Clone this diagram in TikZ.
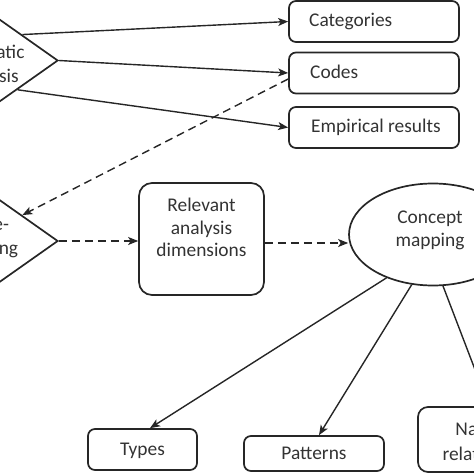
\documentclass[tikz,border=0pt]{standalone}
\usepackage{fontspec}
\setmainfont{Carlito}
\usetikzlibrary{shapes.geometric,arrows.meta,calc}
\definecolor{ln}{HTML}{262626}
\definecolor{tx}{HTML}{333333}
\begin{document}
\begin{tikzpicture}[x=1pt,y=-1pt,
 every node/.style={font=\fontsize{19.4}{24}\selectfont, text=tx},
 shapeline/.style={draw=ln, line width=1.7pt},
 rbox/.style={shapeline, rectangle, rounded corners=7pt, inner sep=0pt},
 dia/.style={shapeline, diamond, minimum width=116pt, minimum height=82pt, inner sep=0pt},
 conn/.style={draw=ln, line width=1.4pt, -{Stealth[length=10pt,width=8pt,inset=2.5pt]}},
 dconn/.style={conn, dash pattern=on 8pt off 5pt},
 lbl/.style={anchor=base, inner sep=0pt},
 lbll/.style={anchor=base west, inner sep=0pt},
 ctext/.style={text height=12.5pt, text depth=0pt},
 leftbox/.style={rbox, minimum width=170pt, minimum height=41pt},
]
\useasboundingbox (0,0) rectangle (474,474);
\clip (0,0) rectangle (474,474);
% top part
\node[dia] (d1) at (0,60.5) {};
\node[lbl] (t1a) at (-12,58) {Thematic};
\node[lbl] (t1b) at (-12,82) {analysis};
\node[leftbox] (cat) at (374,21.5) {};
\node[leftbox] (codes) at (374,73) {};
\node[leftbox] (emp) at (374,127.5) {};
\node[lbll] (tc1) at (309,26.5) {Categories};
\node[lbll] (tc2) at (310,78) {Codes};
\node[lbll] (tc3) at (311,132.5) {Empirical results};
% middle row
\node[dia] (d2) at (0,241) {};
\node[lbl] (t2a) at (-7,230) {Pre-};
\node[lbl] (t2b) at (-8,254) {coding};
\node[rbox, rounded corners=13pt, minimum width=125pt, minimum height=112pt] (rel) at (201.5,239) {};
\node[lbl] (t3a) at (201.5,211.5) {Relevant};
\node[lbl] (t3b) at (201.5,234) {analysis};
\node[lbl] (t3c) at (201.5,256.5) {dimensions};
\node[shapeline, ellipse, minimum width=168pt, minimum height=102pt, inner sep=0pt] (concept) at (433,234.5) {};
\node[lbl] (t4a) at (430,223) {Concept};
\node[lbl] (t4b) at (430,246) {mapping};
% bottom row
\node[rbox, ctext, minimum width=109pt, minimum height=41pt] (types) at (142.5,449.5) {Types};
\node[rbox, ctext, minimum width=140pt, minimum height=35pt] (pat) at (314,453.5) {Patterns};
\node[rbox, rounded corners=10pt, minimum width=150pt, minimum height=65pt] (nat) at (493,439.5) {};
\node[lbl] (t5a) at (493,435.5) {Nature of};
\node[lbl] (t5b) at (493,460) {relationships};
% connectors
\draw[conn] ($(d1.north)!0.38!(d1.east)$) -- (cat.west);
\draw[conn] (d1.east) -- (codes.west);
\draw[conn] ($(d1.south)!0.3!(d1.east)$) -- (emp.west);
\draw[dconn] ($(codes.west)+(0,6)$) -- ($(d2.north)!0.38!(d2.east)$);
\draw[dconn] (d2.east) -- (d2.east -| rel.west);
\draw[dconn] ($(rel.east)+(0,4)$) coordinate (r1) -- (r1 -| concept.west);
\draw[conn] (concept.223) -- ($(types.north)+(7.5,0)$);
\draw[conn] (concept.247) -- ($(pat.north)+(5,0)$);
\draw[conn] (concept.281) -- ($(nat.north)+(-4,0)$);
\end{tikzpicture}
\end{document}
